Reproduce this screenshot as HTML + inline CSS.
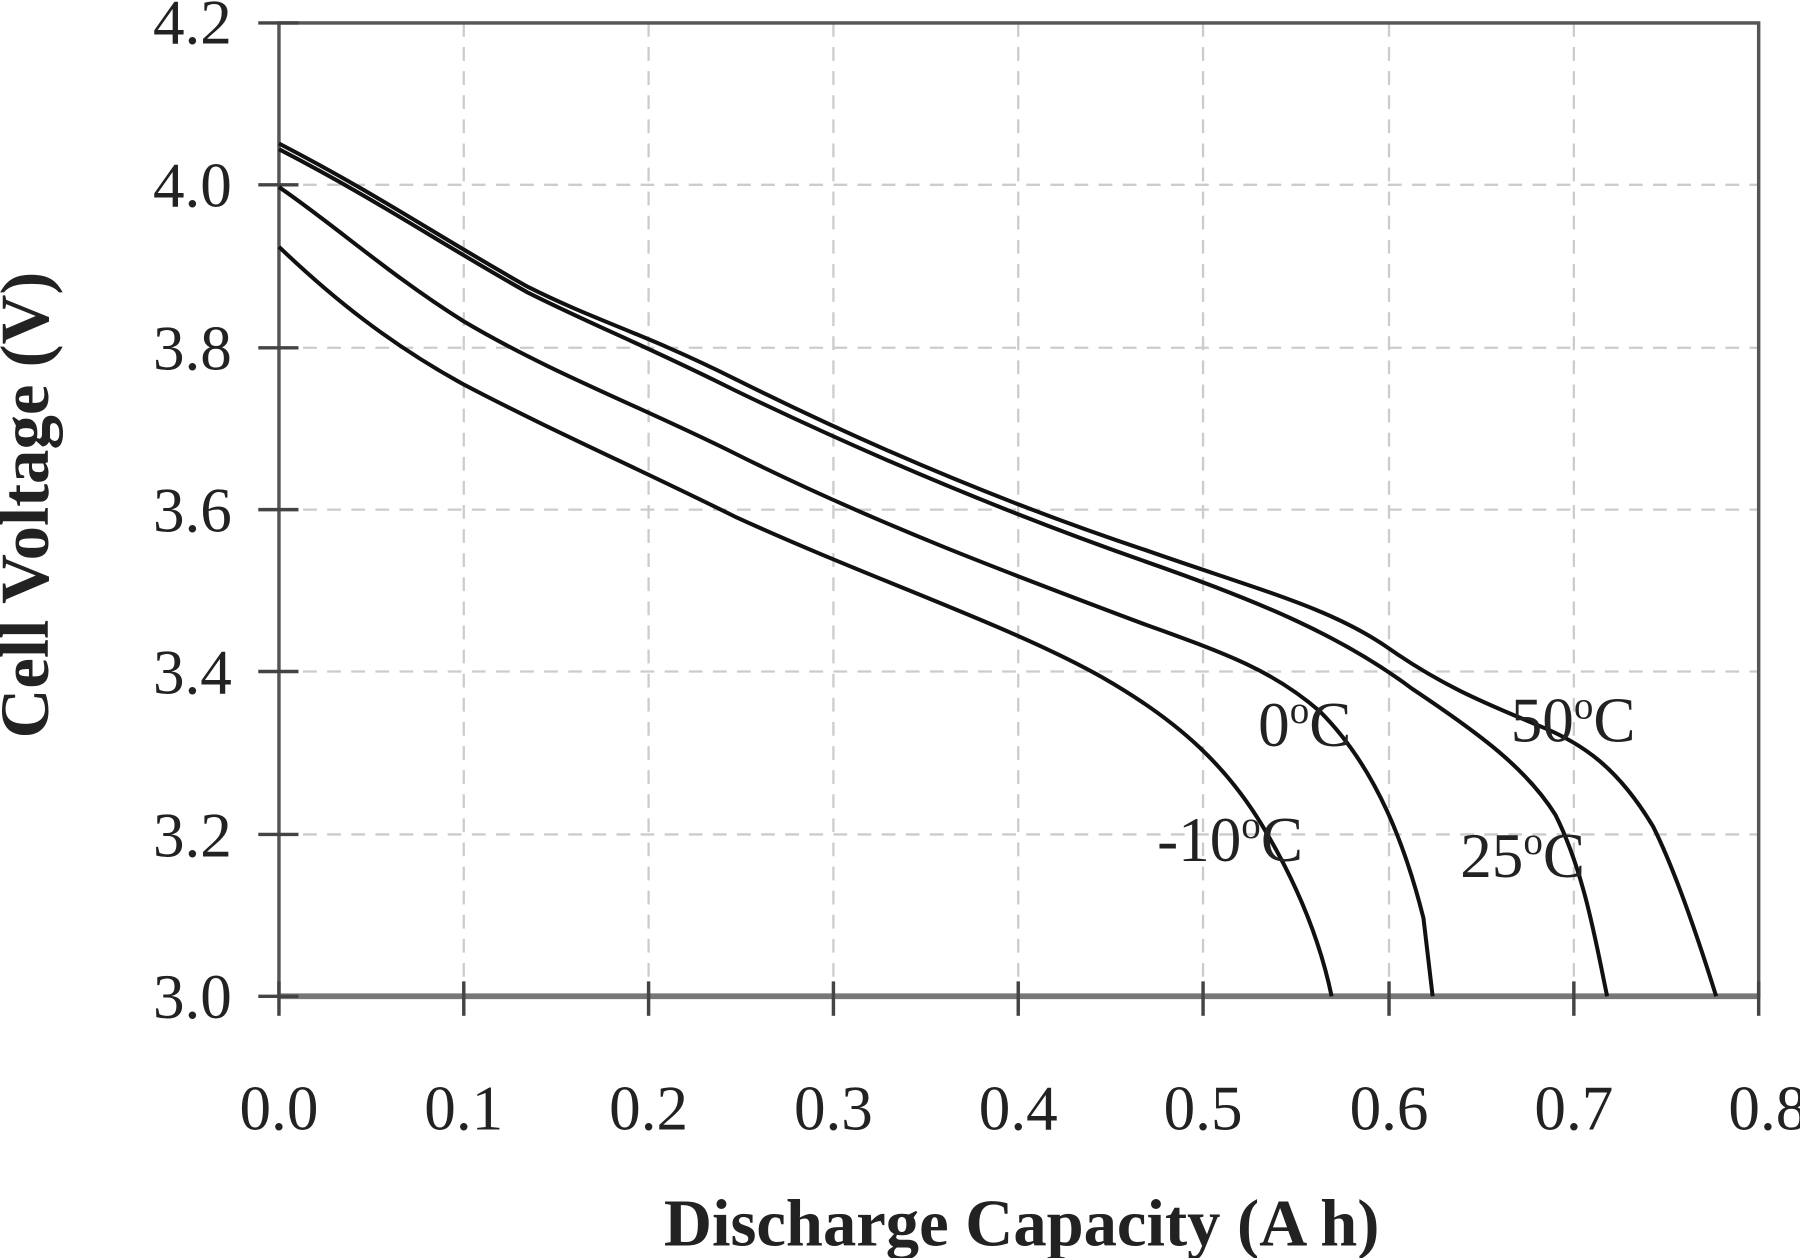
<!DOCTYPE html>
<html><head><style>html,body{margin:0;padding:0;background:#fff;}svg{display:block}</style></head>
<body>
<svg width="1800" height="1258" viewBox="0 0 1568 1096" preserveAspectRatio="none" xmlns="http://www.w3.org/2000/svg" font-family="'Liberation Serif', serif">
<rect width="1568" height="1096" fill="#fff"/>
<g stroke="#ccc" stroke-width="2" stroke-dasharray="12,9">
<line x1="404" y1="20" x2="404" y2="868"/><line x1="565" y1="20" x2="565" y2="868"/>
<line x1="726" y1="20" x2="726" y2="868"/><line x1="887" y1="20" x2="887" y2="868"/>
<line x1="1048" y1="20" x2="1048" y2="868"/><line x1="1210" y1="20" x2="1210" y2="868"/>
<line x1="1371" y1="20" x2="1371" y2="868"/>
<line x1="243" y1="161" x2="1532" y2="161"/><line x1="243" y1="303" x2="1532" y2="303"/>
<line x1="243" y1="444" x2="1532" y2="444"/><line x1="243" y1="585" x2="1532" y2="585"/>
<line x1="243" y1="727" x2="1532" y2="727"/>
</g>
<g stroke="#555" stroke-width="3" fill="none">
<rect x="243" y="20" width="1289" height="848"/>
</g>
<line x1="243" y1="868" x2="1532" y2="868" stroke="#777" stroke-width="5"/>
<g stroke="#444" stroke-width="3">
<line x1="225" y1="20" x2="260" y2="20"/><line x1="225" y1="161" x2="260" y2="161"/>
<line x1="225" y1="303" x2="260" y2="303"/><line x1="225" y1="444" x2="260" y2="444"/>
<line x1="225" y1="585" x2="260" y2="585"/><line x1="225" y1="727" x2="260" y2="727"/>
<line x1="225" y1="868" x2="260" y2="868"/>
<line x1="243" y1="855" x2="243" y2="885"/><line x1="404" y1="855" x2="404" y2="885"/>
<line x1="565" y1="855" x2="565" y2="885"/><line x1="726" y1="855" x2="726" y2="885"/>
<line x1="887" y1="855" x2="887" y2="885"/><line x1="1048" y1="855" x2="1048" y2="885"/>
<line x1="1210" y1="855" x2="1210" y2="885"/><line x1="1371" y1="855" x2="1371" y2="885"/>
<line x1="1532" y1="855" x2="1532" y2="885"/>
</g>
<g font-size="55" fill="#222" text-anchor="end">
<text x="202" y="38">4.2</text><text x="202" y="180">4.0</text><text x="202" y="322">3.8</text>
<text x="202" y="463">3.6</text><text x="202" y="604">3.4</text><text x="202" y="746">3.2</text>
<text x="202" y="887">3.0</text>
</g>
<g font-size="55" fill="#222" text-anchor="middle">
<text x="243" y="984">0.0</text><text x="404" y="984">0.1</text><text x="565" y="984">0.2</text>
<text x="726" y="984">0.3</text><text x="887" y="984">0.4</text><text x="1048" y="984">0.5</text>
<text x="1210" y="984">0.6</text><text x="1371" y="984">0.7</text><text x="1540" y="984">0.8</text>
</g>
<text x="890" y="1085" font-size="58" font-weight="bold" text-anchor="middle" fill="#222">Discharge Capacity (A h)</text>
<text transform="translate(42,440) rotate(-90)" font-size="60" font-weight="bold" text-anchor="middle" fill="#222">Cell Voltage (V)</text>
<g stroke="#111" stroke-width="3.5" fill="none" stroke-linejoin="round">
<path d="M243,125 C330,170 380,205 460,250 C520,280 560,290 640,330 C760,390 880,440 1000,480 C1100,515 1160,530 1210,565 C1260,600 1300,615 1340,632 C1380,648 1410,670 1440,720 C1460,760 1480,820 1495,868"/>
<path d="M243,130 C330,175 380,210 460,255 C520,285 560,300 640,340 C760,398 880,448 1000,490 C1100,525 1170,555 1230,600 C1290,640 1330,670 1355,710 C1380,760 1390,820 1400,868"/>
<path d="M243,163 C290,195 340,240 404,280 C480,325 560,355 640,395 C760,455 880,500 1000,545 C1070,570 1110,585 1150,620 C1200,670 1225,740 1240,800 L1248,868"/>
<path d="M243,215 C290,260 340,300 404,335 C480,375 560,410 640,450 C760,505 880,545 960,590 C1030,630 1070,670 1100,720 C1130,770 1150,820 1160,868"/>
</g>
<g font-size="55" fill="#222">
<text x="1096" y="650">0<tspan dy="-20" font-size="34">o</tspan><tspan dy="20">C</tspan></text>
<text x="1316" y="646">50<tspan dy="-20" font-size="34">o</tspan><tspan dy="20">C</tspan></text>
<text x="1008" y="750">-10<tspan dy="-20" font-size="34">o</tspan><tspan dy="20">C</tspan></text>
<text x="1272" y="764">25<tspan dy="-20" font-size="34">o</tspan><tspan dy="20">C</tspan></text>
</g>
</svg>
</body></html>
